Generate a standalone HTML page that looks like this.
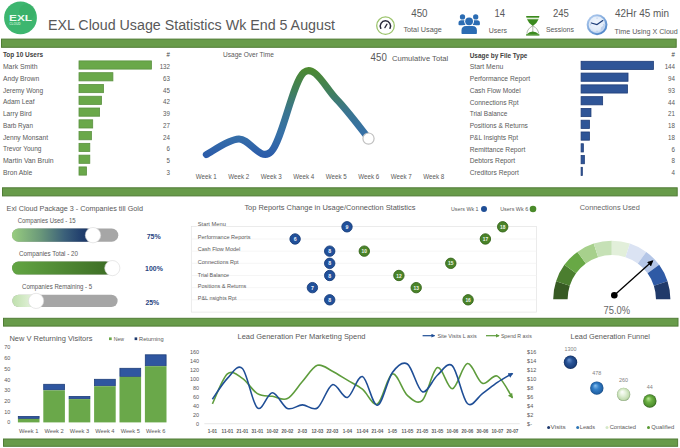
<!DOCTYPE html>
<html><head><meta charset="utf-8"><title>EXL Cloud Usage Statistics</title>
<style>
html,body{margin:0;padding:0;background:#fff;}
body{width:680px;height:448px;overflow:hidden;}
svg{display:block;font-family:"Liberation Sans", Arial, sans-serif;}

</style></head><body>
<svg width="680" height="448" viewBox="0 0 680 448" fill="#595959">
<defs>
<linearGradient id="uot" gradientUnits="userSpaceOnUse" x1="0" y1="66" x2="0" y2="158">
<stop offset="0" stop-color="#4e8a2c"/><stop offset="0.26" stop-color="#418058"/><stop offset="0.5" stop-color="#3a7590"/><stop offset="0.75" stop-color="#3670a8"/><stop offset="1" stop-color="#2b5aaa"/></linearGradient>
<linearGradient id="s1" x1="0" y1="0" x2="1" y2="0"><stop offset="0" stop-color="#98cd7f"/><stop offset="0.35" stop-color="#6a987a"/><stop offset="0.65" stop-color="#3b607a"/><stop offset="0.85" stop-color="#22406e"/><stop offset="1" stop-color="#1b3463"/></linearGradient>
<linearGradient id="s2" x1="0" y1="0" x2="1" y2="0"><stop offset="0" stop-color="#62a543"/><stop offset="1" stop-color="#3c6c24"/></linearGradient>
<linearGradient id="s3" x1="0" y1="0" x2="1" y2="0"><stop offset="0" stop-color="#bfe0ad"/><stop offset="1" stop-color="#eaf5e3"/></linearGradient>
<radialGradient id="sp1" cx="0.5" cy="0.5" r="0.5" fx="0.38" fy="0.3"><stop offset="0" stop-color="#6a94d0"/><stop offset="0.45" stop-color="#2a5598"/><stop offset="0.85" stop-color="#1a3f7c"/><stop offset="1" stop-color="#0f2a58"/></radialGradient>
<radialGradient id="sp2" cx="0.5" cy="0.5" r="0.5" fx="0.38" fy="0.3"><stop offset="0" stop-color="#8cc2f0"/><stop offset="0.45" stop-color="#3580c8"/><stop offset="0.85" stop-color="#2364a8"/><stop offset="1" stop-color="#174a82"/></radialGradient>
<radialGradient id="sp3" cx="0.5" cy="0.5" r="0.5" fx="0.38" fy="0.3"><stop offset="0" stop-color="#ffffff"/><stop offset="0.45" stop-color="#e2f0d8"/><stop offset="0.85" stop-color="#c2dcb0"/><stop offset="1" stop-color="#8aa57c"/></radialGradient>
<radialGradient id="sp4" cx="0.5" cy="0.5" r="0.5" fx="0.38" fy="0.3"><stop offset="0" stop-color="#b8e894"/><stop offset="0.45" stop-color="#6cb043"/><stop offset="0.85" stop-color="#4f9030"/><stop offset="1" stop-color="#2f5e18"/></radialGradient>
<linearGradient id="clkr" x1="0.2" y1="0.1" x2="0.8" y2="0.9"><stop offset="0" stop-color="#a9c6ec"/><stop offset="1" stop-color="#4f86c8"/></linearGradient>
<radialGradient id="clk" cx="0.45" cy="0.4" r="0.6"><stop offset="0" stop-color="#f4f8fe"/><stop offset="0.75" stop-color="#dfeaf8"/><stop offset="1" stop-color="#b7cfee"/></radialGradient>
<marker id="ab" viewBox="0 0 10 10" refX="8" refY="5" markerWidth="3.2" markerHeight="3.2" orient="auto"><path d="M0,0 L10,5 L0,10 z" fill="#1f4e96"/></marker>
<marker id="ag" viewBox="0 0 10 10" refX="8" refY="5" markerWidth="3.2" markerHeight="3.2" orient="auto"><path d="M0,0 L10,5 L0,10 z" fill="#5e9c3c"/></marker>
<marker id="ak" viewBox="0 0 10 10" refX="8" refY="5" markerWidth="4.5" markerHeight="4.5" orient="auto"><path d="M0,0 L10,5 L0,10 z" fill="#000"/></marker>
</defs>
<rect x="1.5" y="39.1" width="674.7" height="8.199999999999996" fill="#689b4a" stroke="#517c36" stroke-width="1"/>
<rect x="2.5" y="187.8" width="674.7" height="8.099999999999994" fill="#689b4a" stroke="#517c36" stroke-width="1"/>
<rect x="3.5" y="318.3" width="674.5" height="7.800000000000011" fill="#689b4a" stroke="#517c36" stroke-width="1"/>
<rect x="3.5" y="439.0" width="674.1" height="7.300000000000011" fill="#689b4a" stroke="#517c36" stroke-width="1"/>
<circle cx="20.5" cy="17.9" r="16.4" fill="#3db66f"/>
<circle cx="27" cy="12" r="8" fill="#37ad66" opacity="0.6"/>
<text x="20.55" y="20.85" font-size="9.6" fill="#e9fbef" text-anchor="middle" font-weight="bold" textLength="23" lengthAdjust="spacingAndGlyphs">EXL</text>
<text x="9.20" y="25.00" font-size="2.9" fill="#bdebc9" font-weight="bold" textLength="11.4" lengthAdjust="spacingAndGlyphs">CLOUD</text>
<text x="48.00" y="29.80" font-size="15.26" textLength="287" lengthAdjust="spacingAndGlyphs">EXL Cloud Usage Statistics Wk End 5 August</text>
<circle cx="385.5" cy="25.65" r="8.8" fill="none" stroke="#9cc46c" stroke-width="1.3"/>
<path d="M380.8,28.3 A5.15,5.15 0 1 1 390.0,28.3" fill="none" stroke="#2b2b3b" stroke-width="1.5" stroke-linecap="round"/>
<path d="M384.9,27.6 L387.0,24.2" stroke="#2b2b3b" stroke-width="1.3" stroke-linecap="round"/>
<text x="419.40" y="16.70" font-size="10.02" text-anchor="middle" textLength="16.4" lengthAdjust="spacingAndGlyphs">450</text>
<text x="422.60" y="32.20" font-size="7.68" text-anchor="middle" textLength="38.3" lengthAdjust="spacingAndGlyphs">Total Usage</text>
<g fill="#2b6cb3"><circle cx="462.5" cy="16.9" r="2.65"/><circle cx="475.7" cy="16.9" r="2.65"/><path d="M458.5,24.2 L458.5,23 Q458.5,20.3 461.3,20.3 L465.5,20.3 L465.5,25.2 L459.5,25.2 Q458.5,25.2 458.5,24.2 Z"/><path d="M479.9,24.2 L479.9,23 Q479.9,20.3 477.1,20.3 L472.9,20.3 L472.9,25.2 L478.9,25.2 Q479.9,25.2 479.9,24.2 Z"/></g>
<circle cx="469.1" cy="21.3" r="4.9" fill="#fff"/>
<path d="M460.5,35 L460.5,30 Q460.5,24.9 465.6,24.9 L472.7,24.9 Q477.9,24.9 477.9,30 L477.9,35 Z" fill="#fff"/>
<circle cx="469.1" cy="21.3" r="3.9" fill="#2b6cb3"/>
<path d="M461.5,32.9 L461.5,30.4 Q461.5,25.9 466,25.9 L472.4,25.9 Q476.9,25.9 476.9,30.4 L476.9,32.9 Q476.9,34.1 475.7,34.1 L462.7,34.1 Q461.5,34.1 461.5,32.9 Z" fill="#2b6cb3"/>
<text x="499.70" y="16.70" font-size="10.02" text-anchor="middle" textLength="10.5" lengthAdjust="spacingAndGlyphs">14</text>
<text x="497.90" y="32.80" font-size="7.68" text-anchor="middle" textLength="18.2" lengthAdjust="spacingAndGlyphs">Users</text>
<path d="M526.1,16.1 L539.4,16.1 L539.0,17.8 L526.5,17.8 Z" fill="#3b8a1e"/>
<rect x="526.8" y="17.9" width="11.9" height="1.3" fill="#e3f0da"/>
<path d="M527.0,19.3 L538.6,19.3 Q537.2,23.2 532.8,25.9 Q528.4,23.2 527.0,19.3 Z" fill="#3b8a1e"/>
<path d="M532.8,25.8 Q527.5,28.5 526.8,33.5 M532.8,25.8 Q538,28.5 538.7,33.5 M532.8,25.8 L532.8,32" fill="none" stroke="#7a8a72" stroke-width="0.6"/>
<path d="M526.4,34.4 Q529.5,31.6 532.8,31.5 Q536,31.6 539.2,34.4 Z" fill="#3b8a1e"/>
<path d="M526.1,34.3 L539.4,34.3 L539.4,35.6 L526.1,35.6 Z" fill="#3b8a1e"/>
<text x="560.85" y="16.70" font-size="10.02" text-anchor="middle" textLength="15.9" lengthAdjust="spacingAndGlyphs">245</text>
<text x="559.90" y="32.00" font-size="7.68" text-anchor="middle" textLength="28" lengthAdjust="spacingAndGlyphs">Sessions</text>
<circle cx="597.05" cy="24.75" r="10.4" fill="url(#clkr)"/>
<circle cx="597.05" cy="24.75" r="8.4" fill="url(#clk)"/>
<path d="M597.05,17.6 L597.05,18.8 M604.2,24.75 L603,24.75 M597.05,31.9 L597.05,30.7 M589.9,24.75 L591.1,24.75" stroke="#9db8df" stroke-width="0.7"/>
<path d="M600.5,31 Q604.5,28.5 605,24.5 L601,27.5 Z" fill="#b9cdea" opacity="0.9"/>
<path d="M591.3,23 L597.1,24.6 L602.8,20.6" fill="none" stroke="#1f3f7a" stroke-width="1.25" stroke-linecap="round" stroke-linejoin="round"/>
<text x="642.00" y="16.70" font-size="10.02" text-anchor="middle" textLength="54" lengthAdjust="spacingAndGlyphs">42Hr 45 min</text>
<text x="646.20" y="33.60" font-size="7.58" text-anchor="middle" textLength="63.2" lengthAdjust="spacingAndGlyphs">Time Using X Cloud</text>
<text x="2.90" y="57.00" font-size="7.11" fill="#404040" font-weight="bold" textLength="40.2" lengthAdjust="spacingAndGlyphs">Top 10 Users</text>
<text x="170.00" y="57.20" font-size="6.36" fill="#404040" text-anchor="end" textLength="3.39" lengthAdjust="spacingAndGlyphs">#</text>
<text x="2.90" y="69.00" font-size="6.88" textLength="34.61" lengthAdjust="spacingAndGlyphs">Mark Smith</text>
<text x="170.00" y="69.00" font-size="6.36" text-anchor="end" textLength="10.34" lengthAdjust="spacingAndGlyphs">132</text>
<rect x="79.0" y="60.90" width="72.40" height="8.2" fill="#6aa84a" stroke="#5b9140" stroke-width="0.8"/>
<text x="2.90" y="80.75" font-size="6.88" textLength="36.34" lengthAdjust="spacingAndGlyphs">Andy Brown</text>
<text x="170.00" y="80.75" font-size="6.36" text-anchor="end" textLength="6.89" lengthAdjust="spacingAndGlyphs">63</text>
<rect x="79.0" y="72.68" width="33.90" height="8.2" fill="#6aa84a" stroke="#5b9140" stroke-width="0.8"/>
<text x="2.90" y="92.50" font-size="6.88" textLength="40.25" lengthAdjust="spacingAndGlyphs">Jeremy Wong</text>
<text x="170.00" y="92.50" font-size="6.36" text-anchor="end" textLength="6.89" lengthAdjust="spacingAndGlyphs">45</text>
<rect x="79.0" y="84.46" width="24.50" height="8.2" fill="#6aa84a" stroke="#5b9140" stroke-width="0.8"/>
<text x="2.90" y="104.25" font-size="6.88" textLength="31.61" lengthAdjust="spacingAndGlyphs">Adam Leaf</text>
<text x="170.00" y="104.25" font-size="6.36" text-anchor="end" textLength="6.89" lengthAdjust="spacingAndGlyphs">42</text>
<rect x="79.0" y="96.24" width="22.50" height="8.2" fill="#6aa84a" stroke="#5b9140" stroke-width="0.8"/>
<text x="2.90" y="116.00" font-size="6.88" textLength="28.75" lengthAdjust="spacingAndGlyphs">Larry Bird</text>
<text x="170.00" y="116.00" font-size="6.36" text-anchor="end" textLength="6.89" lengthAdjust="spacingAndGlyphs">39</text>
<rect x="79.0" y="108.02" width="20.60" height="8.2" fill="#6aa84a" stroke="#5b9140" stroke-width="0.8"/>
<text x="2.90" y="127.75" font-size="6.88" textLength="30.06" lengthAdjust="spacingAndGlyphs">Barb Ryan</text>
<text x="170.00" y="127.75" font-size="6.36" text-anchor="end" textLength="6.89" lengthAdjust="spacingAndGlyphs">27</text>
<rect x="79.0" y="119.80" width="13.70" height="8.2" fill="#6aa84a" stroke="#5b9140" stroke-width="0.8"/>
<text x="2.90" y="139.50" font-size="6.88" textLength="45.22" lengthAdjust="spacingAndGlyphs">Jenny Monsant</text>
<text x="170.00" y="139.50" font-size="6.36" text-anchor="end" textLength="6.89" lengthAdjust="spacingAndGlyphs">24</text>
<rect x="79.0" y="131.58" width="12.40" height="8.2" fill="#6aa84a" stroke="#5b9140" stroke-width="0.8"/>
<text x="2.90" y="151.25" font-size="6.88" textLength="38.62" lengthAdjust="spacingAndGlyphs">Trevor Young</text>
<text x="170.00" y="151.25" font-size="6.36" text-anchor="end" textLength="3.45" lengthAdjust="spacingAndGlyphs">6</text>
<rect x="79.0" y="143.36" width="10.80" height="8.2" fill="#6aa84a" stroke="#5b9140" stroke-width="0.8"/>
<text x="2.90" y="163.00" font-size="6.88" textLength="50.72" lengthAdjust="spacingAndGlyphs">Martin Van Bruin</text>
<text x="170.00" y="163.00" font-size="6.36" text-anchor="end" textLength="3.45" lengthAdjust="spacingAndGlyphs">5</text>
<rect x="79.0" y="155.14" width="10.80" height="8.2" fill="#6aa84a" stroke="#5b9140" stroke-width="0.8"/>
<text x="2.90" y="174.75" font-size="6.88" textLength="29.28" lengthAdjust="spacingAndGlyphs">Bron Able</text>
<text x="170.00" y="174.75" font-size="6.36" text-anchor="end" textLength="3.45" lengthAdjust="spacingAndGlyphs">3</text>
<rect x="79.0" y="166.92" width="7.50" height="8.2" fill="#6aa84a" stroke="#5b9140" stroke-width="0.8"/>
<text x="223.00" y="57.10" font-size="6.93" textLength="50.9" lengthAdjust="spacingAndGlyphs">Usage Over Time</text>
<text x="370.60" y="61.00" font-size="10.02" textLength="16.2" lengthAdjust="spacingAndGlyphs">450</text>
<text x="392.00" y="60.70" font-size="7.77" textLength="56.2" lengthAdjust="spacingAndGlyphs">Cumulative Total</text>
<text x="206.30" y="178.90" font-size="6.46" text-anchor="middle" textLength="21" lengthAdjust="spacingAndGlyphs">Week 1</text>
<text x="238.80" y="178.90" font-size="6.46" text-anchor="middle" textLength="21" lengthAdjust="spacingAndGlyphs">Week 2</text>
<text x="271.30" y="178.90" font-size="6.46" text-anchor="middle" textLength="21" lengthAdjust="spacingAndGlyphs">Week 3</text>
<text x="303.80" y="178.90" font-size="6.46" text-anchor="middle" textLength="21" lengthAdjust="spacingAndGlyphs">Week 4</text>
<text x="336.30" y="178.90" font-size="6.46" text-anchor="middle" textLength="21" lengthAdjust="spacingAndGlyphs">Week 5</text>
<text x="368.80" y="178.90" font-size="6.46" text-anchor="middle" textLength="21" lengthAdjust="spacingAndGlyphs">Week 6</text>
<text x="401.30" y="178.90" font-size="6.46" text-anchor="middle" textLength="21" lengthAdjust="spacingAndGlyphs">Week 7</text>
<text x="433.80" y="178.90" font-size="6.46" text-anchor="middle" textLength="21" lengthAdjust="spacingAndGlyphs">Week 8</text>
<path d="M206.30,154.60 C211.72,152.00 227.97,139.52 238.80,139.00 C249.63,138.48 260.47,162.58 271.30,151.50 C282.13,140.42 292.97,81.25 303.80,72.50 C314.63,63.75 325.47,87.98 336.30,99.00 C347.13,110.02 363.38,132.00 368.80,138.60" fill="none" stroke="url(#uot)" stroke-width="7" stroke-linecap="round" stroke-linejoin="round"/>
<circle cx="368.5" cy="138.6" r="5.6" fill="#fff" stroke="#c0c0c0" stroke-width="1.2"/>
<text x="469.70" y="57.50" font-size="7.11" fill="#404040" font-weight="bold" textLength="57.7" lengthAdjust="spacingAndGlyphs">Usage by File Type</text>
<text x="675.00" y="57.20" font-size="6.36" fill="#404040" text-anchor="end" textLength="3.39" lengthAdjust="spacingAndGlyphs">#</text>
<text x="469.70" y="69.30" font-size="6.88" textLength="33.59" lengthAdjust="spacingAndGlyphs">Start Menu</text>
<text x="675.00" y="69.30" font-size="6.36" text-anchor="end" textLength="10.34" lengthAdjust="spacingAndGlyphs">144</text>
<rect x="581.1" y="61.30" width="72.31" height="8.2" fill="#2f5597" stroke="#1f3d78" stroke-width="0.8"/>
<text x="469.70" y="81.05" font-size="6.88" textLength="60.31" lengthAdjust="spacingAndGlyphs">Performance Report</text>
<text x="675.00" y="81.05" font-size="6.36" text-anchor="end" textLength="6.89" lengthAdjust="spacingAndGlyphs">94</text>
<rect x="581.1" y="73.08" width="46.92" height="8.2" fill="#2f5597" stroke="#1f3d78" stroke-width="0.8"/>
<text x="469.70" y="92.80" font-size="6.88" textLength="51" lengthAdjust="spacingAndGlyphs">Cash Flow Model</text>
<text x="675.00" y="92.80" font-size="6.36" text-anchor="end" textLength="6.89" lengthAdjust="spacingAndGlyphs">93</text>
<rect x="581.1" y="84.86" width="46.42" height="8.2" fill="#2f5597" stroke="#1f3d78" stroke-width="0.8"/>
<text x="469.70" y="104.55" font-size="6.88" textLength="48.91" lengthAdjust="spacingAndGlyphs">Connections Rpt</text>
<text x="675.00" y="104.55" font-size="6.36" text-anchor="end" textLength="6.89" lengthAdjust="spacingAndGlyphs">44</text>
<rect x="581.1" y="96.64" width="21.54" height="8.2" fill="#2f5597" stroke="#1f3d78" stroke-width="0.8"/>
<text x="469.70" y="116.30" font-size="6.88" textLength="37.58" lengthAdjust="spacingAndGlyphs">Trial Balance</text>
<text x="675.00" y="116.30" font-size="6.36" text-anchor="end" textLength="6.89" lengthAdjust="spacingAndGlyphs">21</text>
<rect x="581.1" y="108.42" width="9.86" height="8.2" fill="#2f5597" stroke="#1f3d78" stroke-width="0.8"/>
<text x="469.70" y="128.05" font-size="6.88" textLength="58.19" lengthAdjust="spacingAndGlyphs">Positions &amp; Returns</text>
<text x="675.00" y="128.05" font-size="6.36" text-anchor="end" textLength="6.89" lengthAdjust="spacingAndGlyphs">18</text>
<rect x="581.1" y="120.20" width="8.34" height="8.2" fill="#2f5597" stroke="#1f3d78" stroke-width="0.8"/>
<text x="469.70" y="139.80" font-size="6.88" textLength="48.34" lengthAdjust="spacingAndGlyphs">P&amp;L Insights Rpt</text>
<text x="675.00" y="139.80" font-size="6.36" text-anchor="end" textLength="6.89" lengthAdjust="spacingAndGlyphs">18</text>
<rect x="581.1" y="131.98" width="8.34" height="8.2" fill="#2f5597" stroke="#1f3d78" stroke-width="0.8"/>
<text x="469.70" y="151.55" font-size="6.88" textLength="55.7" lengthAdjust="spacingAndGlyphs">Remittance Report</text>
<text x="675.00" y="151.55" font-size="6.36" text-anchor="end" textLength="3.45" lengthAdjust="spacingAndGlyphs">6</text>
<rect x="581.1" y="143.76" width="2.25" height="8.2" fill="#2f5597" stroke="#1f3d78" stroke-width="0.8"/>
<text x="469.70" y="163.30" font-size="6.88" textLength="45.5" lengthAdjust="spacingAndGlyphs">Debtors Report</text>
<text x="675.00" y="163.30" font-size="6.36" text-anchor="end" textLength="3.45" lengthAdjust="spacingAndGlyphs">8</text>
<rect x="581.1" y="155.54" width="3.26" height="8.2" fill="#2f5597" stroke="#1f3d78" stroke-width="0.8"/>
<text x="469.70" y="175.05" font-size="6.88" textLength="49.08" lengthAdjust="spacingAndGlyphs">Creditors Report</text>
<text x="675.00" y="175.05" font-size="6.36" text-anchor="end" textLength="3.45" lengthAdjust="spacingAndGlyphs">4</text>
<rect x="581.1" y="167.32" width="1.23" height="8.2" fill="#2f5597" stroke="#1f3d78" stroke-width="0.8"/>
<text x="6.60" y="210.60" font-size="7.68" textLength="136.4" lengthAdjust="spacingAndGlyphs">Exl Cloud Package 3 - Companies till Gold</text>
<text x="17.70" y="223.10" font-size="6.41" textLength="58" lengthAdjust="spacingAndGlyphs">Companies Used - 15</text>
<rect x="12" y="228.6" width="106.3" height="13.099999999999994" rx="6.549999999999997" fill="#a6a6a6"/>
<rect x="12" y="228.6" width="81" height="13.099999999999994" rx="6.549999999999997" fill="url(#s1)"/>
<circle cx="93" cy="235.14999999999998" r="7.7" fill="#ffffff" stroke="#d9d9d9" stroke-width="0.6"/>
<text x="19.10" y="255.50" font-size="6.41" textLength="58.9" lengthAdjust="spacingAndGlyphs">Companies Total - 20</text>
<rect x="12" y="261.6" width="106" height="13.0" rx="6.5" fill="#a6a6a6"/>
<rect x="12" y="261.6" width="100.3" height="13.0" rx="6.5" fill="url(#s2)"/>
<circle cx="112.3" cy="268.1" r="7.6" fill="#ffffff" stroke="#d9d9d9" stroke-width="0.6"/>
<text x="22.00" y="289.00" font-size="6.41" textLength="70.2" lengthAdjust="spacingAndGlyphs">Companies Remaining - 5</text>
<rect x="12.4" y="294.7" width="105.19999999999999" height="12.400000000000034" rx="6.200000000000017" fill="#a6a6a6"/>
<rect x="12.4" y="294.7" width="23.700000000000003" height="12.400000000000034" rx="6.200000000000017" fill="url(#s3)"/>
<circle cx="36.1" cy="300.9" r="7.6" fill="#ffffff" stroke="#d9d9d9" stroke-width="0.6"/>
<text x="153.75" y="238.50" font-size="7.11" fill="#28447f" text-anchor="middle" font-weight="bold" textLength="14.1" lengthAdjust="spacingAndGlyphs">75%</text>
<text x="153.95" y="271.20" font-size="7.11" fill="#28447f" text-anchor="middle" font-weight="bold" textLength="17.7" lengthAdjust="spacingAndGlyphs">100%</text>
<text x="152.35" y="304.70" font-size="7.11" fill="#28447f" text-anchor="middle" font-weight="bold" textLength="13.7" lengthAdjust="spacingAndGlyphs">25%</text>
<text x="244.40" y="210.10" font-size="7.77" textLength="171" lengthAdjust="spacingAndGlyphs">Top Reports Change in Usage/Connection Statistics</text>
<text x="451.00" y="211.00" font-size="5.71" textLength="27.5" lengthAdjust="spacingAndGlyphs">Users Wk 1</text>
<circle cx="484" cy="209" r="3" fill="#1f4e96"/>
<text x="500.20" y="211.00" font-size="5.71" textLength="28" lengthAdjust="spacingAndGlyphs">Users Wk 6</text>
<circle cx="533" cy="209" r="3.3" fill="#4a8a2a"/>
<rect x="191.3" y="226.4" width="345.2" height="85.7" fill="none" stroke="#e3e3e3" stroke-width="0.7"/>
<line x1="191.3" y1="238.97" x2="536.5" y2="238.97" stroke="#f0f0f0" stroke-width="0.7"/>
<line x1="191.3" y1="251.14" x2="536.5" y2="251.14" stroke="#f0f0f0" stroke-width="0.7"/>
<line x1="191.3" y1="263.31" x2="536.5" y2="263.31" stroke="#f0f0f0" stroke-width="0.7"/>
<line x1="191.3" y1="275.48" x2="536.5" y2="275.48" stroke="#f0f0f0" stroke-width="0.7"/>
<line x1="191.3" y1="287.65" x2="536.5" y2="287.65" stroke="#f0f0f0" stroke-width="0.7"/>
<line x1="191.3" y1="299.82" x2="536.5" y2="299.82" stroke="#f0f0f0" stroke-width="0.7"/>
<rect x="196.5" y="220.50" width="28.0" height="6" fill="#fff"/>
<text x="197.80" y="225.50" font-size="5.74" textLength="28.03" lengthAdjust="spacingAndGlyphs">Start Menu</text>
<text x="197.80" y="238.90" font-size="5.74" textLength="52.7" lengthAdjust="spacingAndGlyphs">Performance Reports</text>
<text x="197.80" y="251.20" font-size="5.74" textLength="42.53" lengthAdjust="spacingAndGlyphs">Cash Flow Model</text>
<text x="197.80" y="264.00" font-size="5.74" textLength="40.78" lengthAdjust="spacingAndGlyphs">Connections Rpt</text>
<text x="197.80" y="276.90" font-size="5.74" textLength="31.34" lengthAdjust="spacingAndGlyphs">Trial Balance</text>
<text x="197.80" y="288.00" font-size="5.74" textLength="48.53" lengthAdjust="spacingAndGlyphs">Positions &amp; Returns</text>
<text x="197.80" y="300.30" font-size="5.74" textLength="38.78" lengthAdjust="spacingAndGlyphs">P&amp;L nsights Rpt</text>
<circle cx="347.00" cy="226.80" r="5.2" fill="#21509a" stroke="#173d7a" stroke-width="0.9"/>
<text x="347.00" y="228.95" font-size="6.0" fill="#f4f7fc" text-anchor="middle" font-weight="bold" textLength="2.9" lengthAdjust="spacingAndGlyphs">9</text>
<circle cx="295.10" cy="238.97" r="5.2" fill="#21509a" stroke="#173d7a" stroke-width="0.9"/>
<text x="295.10" y="241.12" font-size="6.0" fill="#f4f7fc" text-anchor="middle" font-weight="bold" textLength="2.9" lengthAdjust="spacingAndGlyphs">6</text>
<circle cx="329.70" cy="251.14" r="5.2" fill="#21509a" stroke="#173d7a" stroke-width="0.9"/>
<text x="329.70" y="253.29" font-size="6.0" fill="#f4f7fc" text-anchor="middle" font-weight="bold" textLength="2.9" lengthAdjust="spacingAndGlyphs">8</text>
<circle cx="329.70" cy="263.31" r="5.2" fill="#21509a" stroke="#173d7a" stroke-width="0.9"/>
<text x="329.70" y="265.46" font-size="6.0" fill="#f4f7fc" text-anchor="middle" font-weight="bold" textLength="2.9" lengthAdjust="spacingAndGlyphs">8</text>
<circle cx="329.70" cy="275.48" r="5.2" fill="#21509a" stroke="#173d7a" stroke-width="0.9"/>
<text x="329.70" y="277.63" font-size="6.0" fill="#f4f7fc" text-anchor="middle" font-weight="bold" textLength="2.9" lengthAdjust="spacingAndGlyphs">8</text>
<circle cx="312.40" cy="287.65" r="5.2" fill="#21509a" stroke="#173d7a" stroke-width="0.9"/>
<text x="312.40" y="289.80" font-size="6.0" fill="#f4f7fc" text-anchor="middle" font-weight="bold" textLength="2.9" lengthAdjust="spacingAndGlyphs">7</text>
<circle cx="329.70" cy="299.82" r="5.2" fill="#21509a" stroke="#173d7a" stroke-width="0.9"/>
<text x="329.70" y="301.97" font-size="6.0" fill="#f4f7fc" text-anchor="middle" font-weight="bold" textLength="2.9" lengthAdjust="spacingAndGlyphs">8</text>
<circle cx="502.70" cy="226.80" r="5.2" fill="#4a8329" stroke="#336419" stroke-width="0.9"/>
<text x="502.70" y="228.95" font-size="6.0" fill="#f2f8ee" text-anchor="middle" font-weight="bold" textLength="5.4" lengthAdjust="spacingAndGlyphs">18</text>
<circle cx="485.40" cy="238.97" r="5.2" fill="#4a8329" stroke="#336419" stroke-width="0.9"/>
<text x="485.40" y="241.12" font-size="6.0" fill="#f2f8ee" text-anchor="middle" font-weight="bold" textLength="5.4" lengthAdjust="spacingAndGlyphs">17</text>
<circle cx="364.30" cy="251.14" r="5.2" fill="#4a8329" stroke="#336419" stroke-width="0.9"/>
<text x="364.30" y="253.29" font-size="6.0" fill="#f2f8ee" text-anchor="middle" font-weight="bold" textLength="5.4" lengthAdjust="spacingAndGlyphs">10</text>
<circle cx="450.80" cy="263.31" r="5.2" fill="#4a8329" stroke="#336419" stroke-width="0.9"/>
<text x="450.80" y="265.46" font-size="6.0" fill="#f2f8ee" text-anchor="middle" font-weight="bold" textLength="5.4" lengthAdjust="spacingAndGlyphs">15</text>
<circle cx="398.90" cy="275.48" r="5.2" fill="#4a8329" stroke="#336419" stroke-width="0.9"/>
<text x="398.90" y="277.63" font-size="6.0" fill="#f2f8ee" text-anchor="middle" font-weight="bold" textLength="5.4" lengthAdjust="spacingAndGlyphs">12</text>
<circle cx="416.20" cy="287.65" r="5.2" fill="#4a8329" stroke="#336419" stroke-width="0.9"/>
<text x="416.20" y="289.80" font-size="6.0" fill="#f2f8ee" text-anchor="middle" font-weight="bold" textLength="5.4" lengthAdjust="spacingAndGlyphs">13</text>
<circle cx="468.10" cy="299.82" r="5.2" fill="#4a8329" stroke="#336419" stroke-width="0.9"/>
<text x="468.10" y="301.97" font-size="6.0" fill="#f2f8ee" text-anchor="middle" font-weight="bold" textLength="5.4" lengthAdjust="spacingAndGlyphs">16</text>
<text x="609.75" y="209.80" font-size="7.68" fill="#666666" text-anchor="middle" textLength="60" lengthAdjust="spacingAndGlyphs">Connections Used</text>
<path d="M553.20,299.30 A58.6,58.6 0 0 1 556.07,281.19 L569.76,285.64 A44.2,44.2 0 0 0 567.60,299.30 Z" fill="#375a23"/>
<path d="M556.07,281.19 A58.6,58.6 0 0 1 564.39,264.86 L576.04,273.32 A44.2,44.2 0 0 0 569.76,285.64 Z" fill="#4b7e2f"/>
<path d="M564.39,264.86 A58.6,58.6 0 0 1 577.36,251.89 L585.82,263.54 A44.2,44.2 0 0 0 576.04,273.32 Z" fill="#68a845"/>
<path d="M577.36,251.89 A58.6,58.6 0 0 1 593.69,243.57 L598.14,257.26 A44.2,44.2 0 0 0 585.82,263.54 Z" fill="#a7d08c"/>
<path d="M593.69,243.57 A58.6,58.6 0 0 1 611.80,240.70 L611.80,255.10 A44.2,44.2 0 0 0 598.14,257.26 Z" fill="#c6e1b6"/>
<path d="M611.80,240.70 A58.6,58.6 0 0 1 629.91,243.57 L625.46,257.26 A44.2,44.2 0 0 0 611.80,255.10 Z" fill="#e2efda"/>
<path d="M629.91,243.57 A58.6,58.6 0 0 1 646.24,251.89 L637.78,263.54 A44.2,44.2 0 0 0 625.46,257.26 Z" fill="#dbe3f3"/>
<path d="M646.24,251.89 A58.6,58.6 0 0 1 659.21,264.86 L647.56,273.32 A44.2,44.2 0 0 0 637.78,263.54 Z" fill="#b4c6e7"/>
<path d="M659.21,264.86 A58.6,58.6 0 0 1 667.53,281.19 L653.84,285.64 A44.2,44.2 0 0 0 647.56,273.32 Z" fill="#2f5aa5"/>
<path d="M667.53,281.19 A58.6,58.6 0 0 1 670.40,299.30 L656.00,299.30 A44.2,44.2 0 0 0 653.84,285.64 Z" fill="#203a6a"/>
<line x1="614.3" y1="295.3" x2="652.5" y2="261.1" stroke="#000" stroke-width="1.3" marker-end="url(#ak)"/>
<circle cx="614.3" cy="295.3" r="3.3" fill="#000"/>
<text x="616.85" y="314.00" font-size="10.2" fill="#686868" text-anchor="middle" textLength="26.6" lengthAdjust="spacingAndGlyphs">75.0%</text>
<text x="9.40" y="341.00" font-size="7.71" textLength="83" lengthAdjust="spacingAndGlyphs">New V Returning Visitors</text>
<rect x="109" y="337.4" width="2.7" height="2.7" fill="#6aa84a"/>
<text x="113.80" y="340.50" font-size="5.62" textLength="10.3" lengthAdjust="spacingAndGlyphs">New</text>
<rect x="134.6" y="337.4" width="2.6" height="2.7" fill="#1f3a6e"/>
<text x="139.10" y="340.50" font-size="5.62" textLength="24.5" lengthAdjust="spacingAndGlyphs">Returning</text>
<text x="10.40" y="424.30" font-size="5.62" text-anchor="end" textLength="3.05" lengthAdjust="spacingAndGlyphs">0</text>
<text x="10.40" y="413.60" font-size="5.62" text-anchor="end" textLength="6.09" lengthAdjust="spacingAndGlyphs">10</text>
<text x="10.40" y="402.90" font-size="5.62" text-anchor="end" textLength="6.09" lengthAdjust="spacingAndGlyphs">20</text>
<text x="10.40" y="392.20" font-size="5.62" text-anchor="end" textLength="6.09" lengthAdjust="spacingAndGlyphs">30</text>
<text x="10.40" y="381.50" font-size="5.62" text-anchor="end" textLength="6.09" lengthAdjust="spacingAndGlyphs">40</text>
<text x="10.40" y="370.80" font-size="5.62" text-anchor="end" textLength="6.09" lengthAdjust="spacingAndGlyphs">50</text>
<text x="10.40" y="360.10" font-size="5.62" text-anchor="end" textLength="6.09" lengthAdjust="spacingAndGlyphs">60</text>
<text x="10.40" y="349.40" font-size="5.62" text-anchor="end" textLength="6.09" lengthAdjust="spacingAndGlyphs">70</text>
<rect x="18.30" y="416.4" width="20.8" height="2.10" fill="#2f56a0" stroke="#1f3f7a" stroke-width="0.8"/>
<rect x="17.90" y="418.9" width="21.6" height="3.50" fill="#6aa84a"/>
<text x="28.70" y="432.70" font-size="5.95" text-anchor="middle" textLength="19.3" lengthAdjust="spacingAndGlyphs">Week 1</text>
<rect x="43.70" y="384.29999999999995" width="20.8" height="5.60" fill="#2f56a0" stroke="#1f3f7a" stroke-width="0.8"/>
<rect x="43.30" y="390.3" width="21.6" height="32.10" fill="#6aa84a"/>
<text x="54.10" y="432.70" font-size="5.95" text-anchor="middle" textLength="19.3" lengthAdjust="spacingAndGlyphs">Week 2</text>
<rect x="69.10" y="396.4" width="20.8" height="2.30" fill="#2f56a0" stroke="#1f3f7a" stroke-width="0.8"/>
<rect x="68.70" y="399.1" width="21.6" height="23.30" fill="#6aa84a"/>
<text x="79.50" y="432.70" font-size="5.95" text-anchor="middle" textLength="19.3" lengthAdjust="spacingAndGlyphs">Week 3</text>
<rect x="94.50" y="379.29999999999995" width="20.8" height="6.50" fill="#2f56a0" stroke="#1f3f7a" stroke-width="0.8"/>
<rect x="94.10" y="386.2" width="21.6" height="36.20" fill="#6aa84a"/>
<text x="104.90" y="432.70" font-size="5.95" text-anchor="middle" textLength="19.3" lengthAdjust="spacingAndGlyphs">Week 4</text>
<rect x="119.90" y="368.29999999999995" width="20.8" height="8.20" fill="#2f56a0" stroke="#1f3f7a" stroke-width="0.8"/>
<rect x="119.50" y="376.9" width="21.6" height="45.50" fill="#6aa84a"/>
<text x="130.30" y="432.70" font-size="5.95" text-anchor="middle" textLength="19.3" lengthAdjust="spacingAndGlyphs">Week 5</text>
<rect x="145.30" y="354.79999999999995" width="20.8" height="11.00" fill="#2f56a0" stroke="#1f3f7a" stroke-width="0.8"/>
<rect x="144.90" y="366.2" width="21.6" height="56.20" fill="#6aa84a"/>
<text x="155.70" y="432.70" font-size="5.95" text-anchor="middle" textLength="19.3" lengthAdjust="spacingAndGlyphs">Week 6</text>
<text x="237.50" y="339.00" font-size="7.77" textLength="128" lengthAdjust="spacingAndGlyphs">Lead Generation Per Marketing Spend</text>
<line x1="422.6" y1="335.7" x2="434.5" y2="335.7" stroke="#1f4e96" stroke-width="1.2" marker-end="url(#ab)"/>
<text x="437.50" y="337.70" font-size="5.8" textLength="39.1" lengthAdjust="spacingAndGlyphs">Site Visits L axis</text>
<line x1="486" y1="335.7" x2="499" y2="335.7" stroke="#5b9a3a" stroke-width="1.2" marker-end="url(#ag)"/>
<text x="500.90" y="337.70" font-size="5.8" textLength="30.9" lengthAdjust="spacingAndGlyphs">Spend R axis</text>
<text x="199.10" y="425.60" font-size="5.62" text-anchor="end" textLength="3.05" lengthAdjust="spacingAndGlyphs">0</text>
<text x="527.10" y="425.60" font-size="5.62" textLength="4.89" lengthAdjust="spacingAndGlyphs">$-</text>
<text x="199.10" y="416.62" font-size="5.62" text-anchor="end" textLength="6.09" lengthAdjust="spacingAndGlyphs">20</text>
<text x="527.10" y="416.62" font-size="5.62" textLength="6.09" lengthAdjust="spacingAndGlyphs">$2</text>
<text x="199.10" y="407.65" font-size="5.62" text-anchor="end" textLength="6.09" lengthAdjust="spacingAndGlyphs">40</text>
<text x="527.10" y="407.65" font-size="5.62" textLength="6.09" lengthAdjust="spacingAndGlyphs">$4</text>
<text x="199.10" y="398.67" font-size="5.62" text-anchor="end" textLength="6.09" lengthAdjust="spacingAndGlyphs">60</text>
<text x="527.10" y="398.67" font-size="5.62" textLength="6.09" lengthAdjust="spacingAndGlyphs">$6</text>
<text x="199.10" y="389.70" font-size="5.62" text-anchor="end" textLength="6.09" lengthAdjust="spacingAndGlyphs">80</text>
<text x="527.10" y="389.70" font-size="5.62" textLength="6.09" lengthAdjust="spacingAndGlyphs">$8</text>
<text x="199.10" y="380.72" font-size="5.62" text-anchor="end" textLength="9.12" lengthAdjust="spacingAndGlyphs">100</text>
<text x="527.10" y="380.72" font-size="5.62" textLength="9.12" lengthAdjust="spacingAndGlyphs">$10</text>
<text x="199.10" y="371.75" font-size="5.62" text-anchor="end" textLength="9.12" lengthAdjust="spacingAndGlyphs">120</text>
<text x="527.10" y="371.75" font-size="5.62" textLength="9.12" lengthAdjust="spacingAndGlyphs">$12</text>
<text x="199.10" y="362.77" font-size="5.62" text-anchor="end" textLength="9.12" lengthAdjust="spacingAndGlyphs">140</text>
<text x="527.10" y="362.77" font-size="5.62" textLength="9.12" lengthAdjust="spacingAndGlyphs">$14</text>
<text x="199.10" y="353.80" font-size="5.62" text-anchor="end" textLength="9.12" lengthAdjust="spacingAndGlyphs">160</text>
<text x="527.10" y="353.80" font-size="5.62" textLength="9.12" lengthAdjust="spacingAndGlyphs">$16</text>
<line x1="204.3" y1="423.7" x2="519.8" y2="423.7" stroke="#d9d9d9" stroke-width="0.6"/>
<text x="212.40" y="433.20" font-size="4.68" text-anchor="middle" font-weight="bold" textLength="9.14" lengthAdjust="spacingAndGlyphs">1-01</text>
<text x="227.40" y="433.20" font-size="4.68" text-anchor="middle" font-weight="bold" textLength="11.67" lengthAdjust="spacingAndGlyphs">11-01</text>
<text x="242.40" y="433.20" font-size="4.68" text-anchor="middle" font-weight="bold" textLength="11.67" lengthAdjust="spacingAndGlyphs">21-01</text>
<text x="257.40" y="433.20" font-size="4.68" text-anchor="middle" font-weight="bold" textLength="11.67" lengthAdjust="spacingAndGlyphs">31-01</text>
<text x="272.40" y="433.20" font-size="4.68" text-anchor="middle" font-weight="bold" textLength="11.67" lengthAdjust="spacingAndGlyphs">10-02</text>
<text x="287.40" y="433.20" font-size="4.68" text-anchor="middle" font-weight="bold" textLength="11.67" lengthAdjust="spacingAndGlyphs">20-02</text>
<text x="302.40" y="433.20" font-size="4.68" text-anchor="middle" font-weight="bold" textLength="9.14" lengthAdjust="spacingAndGlyphs">2-03</text>
<text x="317.40" y="433.20" font-size="4.68" text-anchor="middle" font-weight="bold" textLength="11.67" lengthAdjust="spacingAndGlyphs">12-03</text>
<text x="332.40" y="433.20" font-size="4.68" text-anchor="middle" font-weight="bold" textLength="11.67" lengthAdjust="spacingAndGlyphs">22-03</text>
<text x="347.40" y="433.20" font-size="4.68" text-anchor="middle" font-weight="bold" textLength="9.14" lengthAdjust="spacingAndGlyphs">1-04</text>
<text x="362.40" y="433.20" font-size="4.68" text-anchor="middle" font-weight="bold" textLength="11.67" lengthAdjust="spacingAndGlyphs">11-04</text>
<text x="377.40" y="433.20" font-size="4.68" text-anchor="middle" font-weight="bold" textLength="11.67" lengthAdjust="spacingAndGlyphs">21-04</text>
<text x="392.40" y="433.20" font-size="4.68" text-anchor="middle" font-weight="bold" textLength="9.14" lengthAdjust="spacingAndGlyphs">1-05</text>
<text x="407.40" y="433.20" font-size="4.68" text-anchor="middle" font-weight="bold" textLength="11.67" lengthAdjust="spacingAndGlyphs">11-05</text>
<text x="422.40" y="433.20" font-size="4.68" text-anchor="middle" font-weight="bold" textLength="11.67" lengthAdjust="spacingAndGlyphs">21-05</text>
<text x="437.40" y="433.20" font-size="4.68" text-anchor="middle" font-weight="bold" textLength="11.67" lengthAdjust="spacingAndGlyphs">31-05</text>
<text x="452.40" y="433.20" font-size="4.68" text-anchor="middle" font-weight="bold" textLength="11.67" lengthAdjust="spacingAndGlyphs">10-06</text>
<text x="467.40" y="433.20" font-size="4.68" text-anchor="middle" font-weight="bold" textLength="11.67" lengthAdjust="spacingAndGlyphs">20-06</text>
<text x="482.40" y="433.20" font-size="4.68" text-anchor="middle" font-weight="bold" textLength="11.67" lengthAdjust="spacingAndGlyphs">30-06</text>
<text x="497.40" y="433.20" font-size="4.68" text-anchor="middle" font-weight="bold" textLength="11.67" lengthAdjust="spacingAndGlyphs">10-07</text>
<text x="512.40" y="433.20" font-size="4.68" text-anchor="middle" font-weight="bold" textLength="11.67" lengthAdjust="spacingAndGlyphs">20-07</text>
<path d="M212.40,403.95 C214.90,398.94 222.40,378.15 227.40,373.89 C232.40,369.63 237.40,375.09 242.40,378.38 C247.40,381.67 252.40,390.64 257.40,393.63 C262.40,396.63 267.40,395.50 272.40,396.33 C277.40,397.15 282.40,401.04 287.40,398.57 C292.40,396.10 297.40,387.05 302.40,381.52 C307.40,375.98 312.40,367.08 317.40,365.36 C322.40,363.64 327.40,368.73 332.40,371.20 C337.40,373.66 342.40,377.18 347.40,380.17 C352.40,383.16 357.40,385.18 362.40,389.15 C367.40,393.11 372.40,406.50 377.40,403.95 C382.40,401.41 387.40,375.31 392.40,373.89 C397.40,372.47 402.40,391.02 407.40,395.43 C412.40,399.84 417.40,405.00 422.40,400.37 C427.40,395.73 432.40,369.55 437.40,367.61 C442.40,365.66 447.40,389.37 452.40,388.70 C457.40,388.02 462.40,364.46 467.40,363.57 C472.40,362.67 477.40,381.22 482.40,383.31 C487.40,385.41 492.40,373.74 497.40,376.13 C502.40,378.53 509.90,394.08 512.40,397.67" fill="none" stroke="#5e9c3c" stroke-width="1.6" marker-end="url(#ag)"/>
<path d="M212.40,399.20 C214.90,395.73 222.40,383.49 227.40,378.38 C232.40,373.26 237.40,363.57 242.40,368.50 C247.40,373.44 252.40,403.95 257.40,407.99 C262.40,412.03 267.40,392.66 272.40,392.74 C277.40,392.81 282.40,406.42 287.40,408.44 C292.40,410.46 297.40,404.93 302.40,404.85 C307.40,404.78 312.40,411.36 317.40,407.99 C322.40,404.63 327.40,386.42 332.40,384.66 C337.40,382.90 342.40,398.79 347.40,397.45 C352.40,396.10 357.40,375.27 362.40,376.58 C367.40,377.89 372.40,405.97 377.40,405.30 C382.40,404.63 387.40,379.42 392.40,372.54 C397.40,365.66 402.40,360.80 407.40,364.02 C412.40,367.23 417.40,389.97 422.40,391.84 C427.40,393.71 432.40,379.57 437.40,375.24 C442.40,370.90 447.40,361.10 452.40,365.81 C457.40,370.52 462.40,398.87 467.40,403.51 C472.40,408.14 477.40,397.15 482.40,393.63 C487.40,390.12 492.40,385.78 497.40,382.41 C502.40,379.05 509.90,374.94 512.40,373.44" fill="none" stroke="#1f4e96" stroke-width="1.6" marker-end="url(#ab)"/>
<text x="570.60" y="339.00" font-size="7.68" textLength="79.4" lengthAdjust="spacingAndGlyphs">Lead Generation Funnel</text>
<circle cx="570.5" cy="362.3" r="6.7" fill="url(#sp1)"/>
<text x="570.50" y="350.90" font-size="5.52" fill="#7f7f7f" text-anchor="middle" textLength="11.95" lengthAdjust="spacingAndGlyphs">1300</text>
<circle cx="596.8" cy="388.1" r="6.7" fill="url(#sp2)"/>
<text x="596.80" y="374.70" font-size="5.52" fill="#7f7f7f" text-anchor="middle" textLength="8.97" lengthAdjust="spacingAndGlyphs">478</text>
<circle cx="623.6" cy="394.4" r="6.7" fill="url(#sp3)"/>
<text x="623.60" y="381.80" font-size="5.52" fill="#7f7f7f" text-anchor="middle" textLength="8.97" lengthAdjust="spacingAndGlyphs">260</text>
<circle cx="649.8" cy="401" r="6.7" fill="url(#sp4)"/>
<text x="649.80" y="388.70" font-size="5.52" fill="#7f7f7f" text-anchor="middle" textLength="5.98" lengthAdjust="spacingAndGlyphs">44</text>
<circle cx="548.6" cy="427.4" r="1.5" fill="#1f3a6e"/>
<text x="550.60" y="429.30" font-size="5.85" textLength="15.1" lengthAdjust="spacingAndGlyphs">Visits</text>
<circle cx="577.7" cy="427.4" r="1.5" fill="#2e75b6"/>
<text x="579.80" y="429.30" font-size="5.85" textLength="15.2" lengthAdjust="spacingAndGlyphs">Leads</text>
<circle cx="607" cy="427.4" r="1.5" fill="#d5e8c8"/>
<text x="609.70" y="429.30" font-size="5.85" textLength="26.3" lengthAdjust="spacingAndGlyphs">Contacted</text>
<circle cx="648.5" cy="427.4" r="1.5" fill="#5a9a34"/>
<text x="651.30" y="429.30" font-size="5.85" textLength="23" lengthAdjust="spacingAndGlyphs">Qualified</text>
</svg>
</body></html>
